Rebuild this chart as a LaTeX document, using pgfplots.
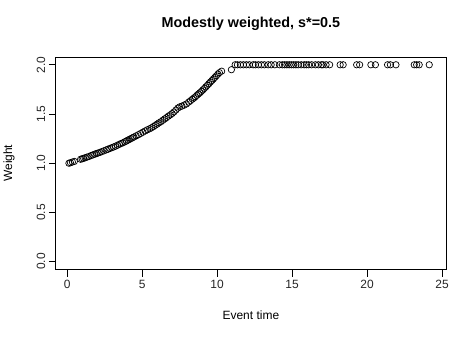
\documentclass[border=0pt]{standalone}
\usepackage{pgfplots}
\pgfplotsset{compat=1.18}
\usepackage{fontspec}
\setmainfont{Liberation Sans}
\begin{document}
\begin{tikzpicture}[x=1pt,y=1pt]
\path (0,0) rectangle (474,338);
\begin{axis}[
  at={(55pt,68pt)}, anchor=south west,
  width=391pt, height=213pt, scale only axis,
  xmin=-0.76, xmax=25.26, ymin=-0.08, ymax=2.08,
  xtick={0,5,10,15,20,25}, ytick={0,0.5,1,1.5,2},
  tick align=outside, major tick length=7pt,
  xtick pos=bottom, ytick pos=left,
  axis line style={black, line width=0.75pt},
  every tick/.style={black, line width=0.75pt},
  /pgf/number format/assume math mode=true,
  yticklabel={\pgfmathprintnumber[fixed,fixed zerofill,precision=1]{\tick}},
  ticklabel style={font=\fontsize{12}{14}\selectfont, text=black!85},
  yticklabel style={rotate=90, anchor=south, xshift=0pt},
  xticklabel style={anchor=north},
  xlabel={Event time}, ylabel={Weight},
  label style={font=\fontsize{12}{14}\selectfont},
  xlabel style={at={(axis description cs:0.5,0)}, anchor=center, yshift=-46pt},
  ylabel style={at={(axis description cs:-0.12,0.5)}, anchor=center},
  title={Modestly weighted, s*=0.5},
  title style={font=\fontsize{14.4}{16}\selectfont\bfseries, at={(axis description cs:0.5,1)}, anchor=center, yshift=27pt},
]
\addplot[only marks, mark=o, mark size=3.2pt, mark options={line width=0.7pt, black}] coordinates {
(0.12,1.000) (0.22,1.005) (0.35,1.012) (0.48,1.018) (0.90,1.040) (1.00,1.045)
(1.10,1.050) (1.20,1.055) (1.32,1.062) (1.45,1.068) (1.60,1.078) (1.72,1.085)
(1.85,1.092) (1.95,1.098) (2.05,1.103) (2.18,1.110) (2.30,1.117) (2.45,1.126)
(2.60,1.135) (2.72,1.142) (2.85,1.150) (2.98,1.158) (3.10,1.165) (3.22,1.173)
(3.35,1.182) (3.48,1.192) (3.60,1.200) (3.72,1.208) (3.85,1.218) (3.95,1.226)
(4.05,1.234) (4.15,1.242) (4.25,1.250) (4.35,1.258) (4.45,1.266) (4.60,1.278)
(4.75,1.290) (4.90,1.302) (5.05,1.315) (5.20,1.328) (5.35,1.340) (5.50,1.350)
(5.62,1.360) (5.75,1.372) (5.88,1.385) (6.00,1.397) (6.12,1.410) (6.25,1.422)
(6.38,1.436) (6.50,1.450) (6.62,1.463) (6.75,1.478) (6.88,1.492) (7.00,1.505)
(7.12,1.520) (7.25,1.540) (7.38,1.560) (7.50,1.572) (7.65,1.580) (7.80,1.590)
(7.95,1.602) (8.10,1.620) (8.22,1.635) (8.35,1.650) (8.45,1.662) (8.55,1.675)
(8.65,1.690) (8.75,1.703) (8.85,1.716) (8.95,1.730) (9.05,1.745) (9.15,1.760)
(9.25,1.776) (9.35,1.792) (9.45,1.808) (9.55,1.825) (9.65,1.840) (9.75,1.856)
(9.85,1.872) (9.95,1.888) (10.05,1.905) (10.15,1.920) (10.30,1.935) (10.95,1.950)
(11.20,2) (11.35,2) (11.55,2) (11.75,2) (11.95,2) (12.15,2) (12.40,2) (12.55,2)
(12.75,2) (12.95,2) (13.15,2) (13.40,2) (13.60,2) (13.85,2) (14.15,2) (14.35,2)
(14.50,2) (14.65,2) (14.80,2) (14.95,2) (15.10,2) (15.25,2) (15.40,2) (15.60,2)
(15.80,2) (15.95,2) (16.10,2) (16.30,2) (16.55,2) (16.75,2) (16.95,2) (17.05,2)
(17.26,2) (17.50,2) (18.20,2) (18.40,2) (19.30,2) (19.50,2) (20.25,2) (20.55,2)
(21.36,2) (21.55,2) (21.92,2) (23.14,2) (23.30,2) (23.47,2) (24.14,2)
};
\end{axis}
\end{tikzpicture}
\end{document}
